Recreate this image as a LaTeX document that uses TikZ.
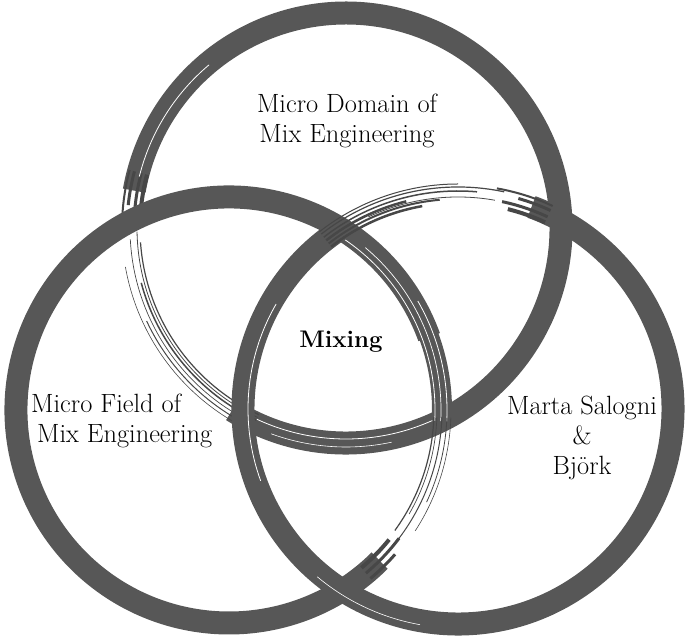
\documentclass[tikz,border=0pt]{standalone}
\usepackage{fontspec}
\newcommand\ringarc[6]{\draw[#1] (#2,#3) ++(#4:#6) arc[start angle=#4, end angle=#5, radius=#6];}
\tikzset{
  ensothick/.style={draw=black!66, line width=23pt},
  bristle/.style={draw=black!72, line width=#1},
  bristle/.default=1pt,
  streak/.style={draw=white, line width=#1},
  streak/.default=0.8pt,
  vtext/.style={font=\fontsize{26.4}{30}\selectfont, inner sep=0pt}
}
\begin{document}
\begin{tikzpicture}[x=1pt,y=1pt]
\useasboundingbox (0,0) rectangle (685,639);
\coordinate (T) at (346,411);
\coordinate (L) at (229,229);
\coordinate (R) at (458,230);
% ---------- top circle ----------
\ringarc{ensothick}{346}{411}{238}{530}{215pt}
\ringarc{bristle=4pt}{346}{411}{165}{176}{206pt}
\ringarc{bristle=3pt}{346}{411}{165}{179}{212pt}
\ringarc{bristle=3pt}{346}{411}{165}{174}{219pt}
\ringarc{bristle=2pt}{346}{411}{165}{181}{224pt}
\ringarc{bristle=1.2pt}{346}{411}{184}{245}{206pt}
\ringarc{bristle=0.8pt}{346}{411}{181}{245}{209pt}
\ringarc{bristle=1.5pt}{346}{411}{195}{245}{212pt}
\ringarc{bristle=0.7pt}{346}{411}{183}{245}{216pt}
\ringarc{bristle=1pt}{346}{411}{205}{245}{220pt}
\ringarc{bristle=0.6pt}{346}{411}{190}{245}{224pt}
\ringarc{streak}{346}{411}{245}{300}{211pt}
\ringarc{streak=0.6pt}{346}{411}{250}{282}{219pt}
\ringarc{streak}{346}{411}{130}{166}{213pt}
% ---------- left circle ----------
\ringarc{ensothick}{229}{229}{20}{315}{213pt}
\ringarc{bristle=4pt}{229}{229}{310}{321}{206pt}
\ringarc{bristle=3pt}{229}{229}{310}{323}{213pt}
\ringarc{bristle=3pt}{229}{229}{310}{319}{220pt}
\ringarc{draw=black!66, line width=20pt}{229}{229}{-3}{25}{213pt}
\ringarc{streak}{229}{229}{-3}{60}{206pt}
\ringarc{streak=0.7pt}{229}{229}{-3}{50}{212pt}
\ringarc{streak}{229}{229}{-3}{30}{218pt}
\ringarc{bristle=1.2pt}{229}{229}{-36}{-2}{205pt}
\ringarc{bristle=0.7pt}{229}{229}{-30}{-2}{208pt}
\ringarc{bristle=1pt}{229}{229}{-38}{-2}{213pt}
\ringarc{bristle=0.8pt}{229}{229}{-25}{-2}{218pt}
\ringarc{bristle=0.6pt}{229}{229}{-33}{-2}{222pt}
% ---------- right circle ----------
\ringarc{ensothick}{458}{230}{122}{430}{215pt}
\ringarc{bristle=4pt}{458}{230}{425}{436}{206pt}
\ringarc{bristle=3pt}{458}{230}{425}{438}{212pt}
\ringarc{bristle=3pt}{458}{230}{425}{434}{219pt}
\ringarc{bristle=2pt}{458}{230}{425}{440}{224pt}
\ringarc{bristle=2.5pt}{458}{230}{128}{100}{206pt}
\ringarc{bristle=2pt}{458}{230}{128}{95}{210pt}
\ringarc{bristle=2.5pt}{458}{230}{128}{104}{214pt}
\ringarc{bristle=1.5pt}{458}{230}{128}{85}{218pt}
\ringarc{bristle=1.2pt}{458}{230}{128}{78}{222pt}
\ringarc{bristle=1pt}{458}{230}{128}{90}{225pt}
\ringarc{bristle=0.8pt}{458}{230}{115}{80}{212pt}
\ringarc{streak}{458}{230}{150}{200}{210pt}
\ringarc{streak=0.6pt}{458}{230}{230}{260}{219pt}
% ---------- texts ----------
\node[vtext, align=center, anchor=base] (domain) at (347,496) {Micro Domain of\\Mix Engineering};
\node[vtext, anchor=base, font=\fontsize{24}{30}\selectfont\bfseries] (mixing) at (341,291) {Mixing};
\node[vtext, align=left, anchor=base west] (field) at (31,196) {Micro Field of\\\hspace*{6pt}Mix Engineering};
\node[vtext, align=center, anchor=base] (marta) at (582,164) {Marta Salogni\\\&\\Björk};
\end{tikzpicture}
\end{document}
